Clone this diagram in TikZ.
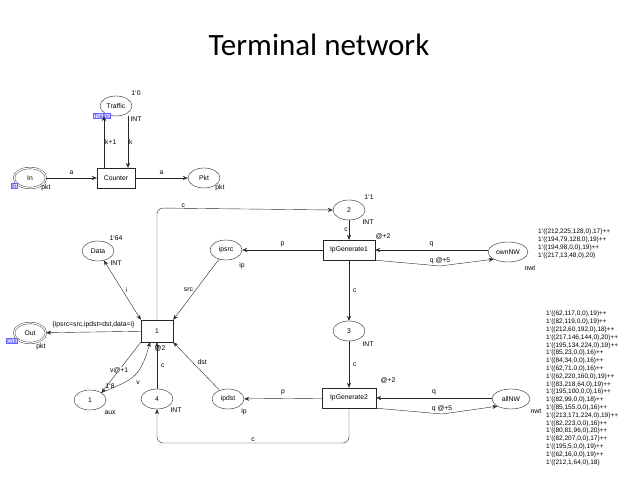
\documentclass[tikz,border=0pt]{standalone}
\usepackage{fontspec}
\setmainfont{Liberation Sans}
\newfontfamily\titlefont{Carlito}
\usetikzlibrary{shapes.geometric,arrows.meta}
\begin{document}
\begin{tikzpicture}[x=1pt,y=-1pt,
  every node/.style={font=\fontsize{6.8}{7.8}\selectfont},
  pl/.style={draw=black!85,ellipse,minimum width=32pt,minimum height=20pt,inner sep=0pt},
  io/.style={pl,double,double distance=1.2pt},
  tr/.style={draw=black!85,rectangle,minimum width=38pt,minimum height=20pt,inner sep=1pt},
  arc/.style={draw=black!85,-{Stealth[length=5pt,width=4pt]}},
  lbl/.style={inner sep=1pt},
  tag/.style={draw=blue!60,fill=blue!15,text=blue!70,inner sep=0.5pt,font=\fontsize{6}{6}\selectfont}]
\useasboundingbox (0,0) rectangle (638,478);
\node[font=\titlefont\fontsize{31}{33}\selectfont] (title) at (319,45) {Terminal network};
% top part
\node[pl] (traffic) at (116,106) {Traffic};
\node[tr] (counter) at (116,178) {Counter};
\node[io] (in) at (30,178) {In};
\node[pl] (pkt) at (204,178) {Pkt};
\node[tag] (ttag) at (102,116) {Traffic};
\node[tag] (intag) at (14,186) {In};
\node[lbl] (t0) at (136,93) {1`0};
\node[lbl] (tint) at (136,119) {INT};
\node[lbl] (inpkt) at (46,188) {pkt};
\node[lbl] (pktpkt) at (220,188) {pkt};
\coordinate (cu1) at (104,168); \coordinate (tu1) at (104,116);
\coordinate (cu2) at (128,168); \coordinate (tu2) at (128,116);
\draw[arc] (cu1) -- node[lbl,right] {k+1} (tu1);
\draw[arc] (tu2) -- node[lbl,right] {k} (cu2);
\draw[arc] (in) -- node[lbl,above=2pt] {a} (counter);
\draw[arc] (counter) -- node[lbl,above=2pt] {a} (pkt);
% middle
\node[pl] (p2) at (349,210) {2};
\node[tr,minimum width=52pt] (ig1) at (349,250) {IpGenerate1};
\node[pl] (ipsrc) at (226,250) {ipsrc};
\node[pl,minimum width=40pt] (own) at (508,252) {ownNW};
\node[pl] (data) at (98,251) {Data};
\node[pl] (p3) at (349,331) {3};
\node[tr,minimum width=54pt] (ig2) at (349,398) {IpGenerate2};
\node[pl] (ipdst) at (228,399) {ipdst};
\node[pl,minimum width=38pt] (all) at (511,399) {allNW};
\node[tr,minimum width=32pt,minimum height=22pt] (t1) at (157,331) {1};
\node[io] (out) at (30,333) {Out};
\node[tag] (outtag) at (12,341) {Out};
\node[pl] (aux) at (90,400) {1};
\node[pl] (p4) at (157,399) {4};
% place labels
\node[lbl] at (369,197) {1`1};
\node[lbl] at (368,222) {INT};
\node[lbl] at (383,237) {@+2};
\node[lbl] at (242,266) {ip};
\node[lbl] at (530,268) {nwt};
\node[lbl] at (116,238) {1`64};
\node[lbl] at (116,263) {INT};
\node[lbl] at (368,344) {INT};
\node[lbl] at (388,381) {@+2};
\node[lbl] at (244,412) {ip};
\node[lbl] at (536,411) {nwt};
\node[lbl] at (41,347) {pkt};
\node[lbl] at (110,413) {aux};
\node[lbl] at (176,410) {INT};
\node[lbl,align=left,anchor=north west,font=\fontsize{6.5}{7.8}\selectfont] (ownm) at (537,228) {1`((212,225,128,0),17)++\\1`((194,79,128,0),19)++\\1`((194,98,0,0),19)++\\1`((217,13,48,0),20)};
\node[lbl,align=left,anchor=north west,font=\fontsize{6.5}{7.8}\selectfont] (allm) at (545,310) {1`((62,117,0,0),19)++\\1`((82,119,0,0),19)++\\1`((212,60,192,0),18)++\\1`((217,146,144,0),20)++\\1`((195,134,224,0),19)++\\1`((85,23,0,0),16)++\\1`((84,34,0,0),16)++\\1`((62,71,0,0),16)++\\1`((62,220,160,0),19)++\\1`((83,218,64,0),19)++\\1`((195,100,0,0),16)++\\1`((82,99,0,0),18)++\\1`((85,155,0,0),16)++\\1`((213,171,224,0),19)++\\1`((82,223,0,0),16)++\\1`((80,81,96,0),20)++\\1`((82,207,0,0),17)++\\1`((195,5,0,0),19)++\\1`((62,16,0,0),19)++\\1`((212,1,64,0),18)};
% arcs
\coordinate (c1) at (157,208);
\draw[arc,rounded corners=6pt] (t1.north) -- (c1) -- node[lbl,above,pos=0.15] {c} (p2.west);
\draw[arc] (p2) -- node[lbl,left] {c} (ig1);
\draw[arc] (ig1) -- node[lbl,above=2pt] {p} (ipsrc);
\draw[arc] (own.west|-ig1.east) -- node[lbl,above=2pt] {q} (ig1.east);
\coordinate (m1) at (440,266);
\draw[arc] (ig1.south east) -- (m1) node[lbl,above=1pt] {q @+5} -- (own.south west);
\draw[arc] (ig1) -- node[lbl,right=3pt] {c} (p3);
\draw[arc] (p3) -- node[lbl,right=3pt] {c} (ig2);
\draw[arc] (ig2) -- node[lbl,above=2pt] {p} (ipdst);
\draw[arc] (all.west|-ig2.east) -- node[lbl,above=2pt] {q} (ig2.east);
\coordinate (m2) at (442,414);
\draw[arc] (ig2.south east) -- (m2) node[lbl,above=1pt] {q @+5} -- (all.south west);
\coordinate (c2) at (349,443); \coordinate (c3) at (157,443);
\draw[arc,rounded corners=6pt] (ig2.south) -- (c2) -- node[lbl,above,pos=0.5] {c} (c3) -- (p4.south);
\draw[arc] (p4) -- node[lbl,right=3pt] {c} (t1);
\draw[arc] (ipdst) -- node[lbl,above right] {dst} (t1.south east);
\draw[arc] (ipsrc) -- node[lbl,left=2pt] {src} (t1.north east);
\draw[draw=black!85,{Stealth[length=5pt,width=4pt]}-{Stealth[length=5pt,width=4pt]}] (data) -- node[lbl,right=2pt] {i} (t1.north west);
\draw[arc] (t1) -- node[lbl,above=3pt] {\{ipsrc=src,ipdst=dst,data=i\}} (out);
\draw[arc] (t1.south west) -- node[lbl,pos=0.55,fill=white,inner sep=0.5pt] {v@+1} (aux.north east);
\draw[arc] (aux.north east) .. controls (130,380) and (140,380) .. (150,342);
\node[lbl] at (138,383) {v};
\node[lbl] at (110,386) {1`8};
\node[lbl] at (160,349) {@2};
\end{tikzpicture}
\end{document}
